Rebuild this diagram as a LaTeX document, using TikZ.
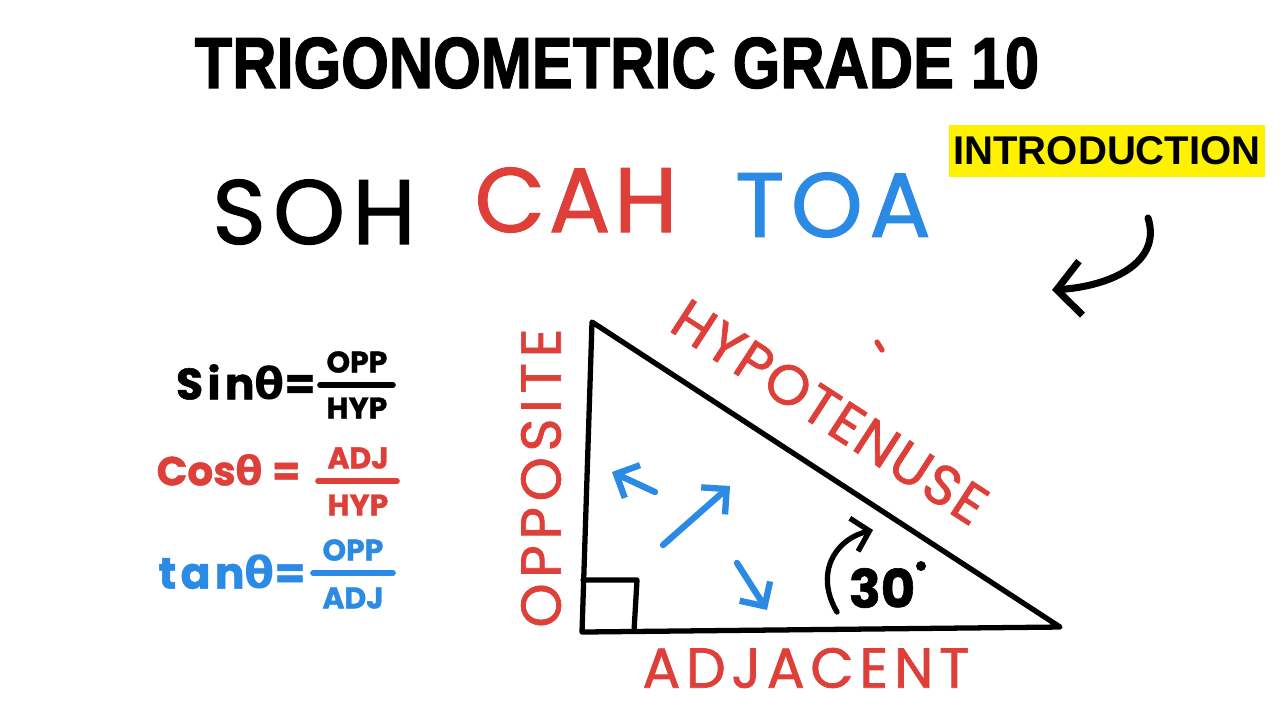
\documentclass[tikz,border=0pt]{standalone}
\usepackage{fontspec, graphicx}
\usetikzlibrary{arrows.meta}
\newfontfamily\titlefont{Liberation Sans}[FakeBold=2]
\newfontfamily\introfont{Liberation Sans}
\newfontfamily\handfont{Poppins}[FakeBold=1.2]
\newfontfamily\thetafont{DejaVu Sans}
\definecolor{penred}{HTML}{DE4039}
\definecolor{penblue}{HTML}{2A8AE4}
\definecolor{markyellow}{HTML}{FFF200}
\newcommand{\thet}{{\thetafont θ}}

\begin{document}
\begin{tikzpicture}[x=0.01cm, y=-0.01cm,
	hand/.style={font=\handfont\fontsize{16}{18}\selectfont, inner sep=0pt},
	big/.style={font=\handfont\fontsize{26}{30}\selectfont, inner sep=0pt},
	formula/.style={font=\handfont\bfseries\fontsize{12.5}{14}\selectfont, inner sep=0pt, anchor=east},
	small/.style={font=\handfont\bfseries\fontsize{8.5}{10}\selectfont, inner sep=0pt},
	bar/.style={line width=1.6pt, line cap=round},
	pen/.style={line width=1.5pt, line cap=round, line join=round},
	bluepen/.style={line width=1.8pt, line cap=round, line join=round, penblue, -{Straight Barb[length=1.8mm, width=3.6mm]}}]
	\fill[white] (0,0) rectangle (1280,720);
	\useasboundingbox (0,0) rectangle (1280,720);

	% title and label
	\node[font=\titlefont\bfseries\fontsize{20.5}{24}\selectfont] (title) at (617,63) {\scalebox{0.85}[1]{TRIGONOMETRIC GRADE 10}};
	\node[fill=markyellow, font=\introfont\bfseries\fontsize{11.4}{13}\selectfont, minimum width=3.15cm, minimum height=0.52cm, inner sep=0pt] (intro) at (1107,151) {INTRODUCTION};

	\coordinate (curlstart) at (1148,218);
	\coordinate (curlend) at (1052,290);
	\draw[line width=2pt, line cap=round, -{Straight Barb[length=2.4mm, width=5.4mm]}] (curlstart) .. controls (1162,262) and (1112,286) .. (curlend);

	% SOH CAH TOA
	\node[big] (soh) at (314,212) {\addfontfeatures{LetterSpace=8}SOH};
	\node[big, text=penred] (cah) at (576,200) {\addfontfeatures{LetterSpace=4}CAH};
	\node[big, text=penblue] (toa) at (833,205) {\addfontfeatures{LetterSpace=7}TOA};

	% ratios
	\node[formula] (sinlhs) at (316,382) {\addfontfeatures{LetterSpace=10}Sin\thet=};
	\node[small] (sinnum) at (357,362) {OPP};
	\node[small] (sinden) at (357,408) {HYP};
	\draw[bar] (320,385) -- (393,385);

	\node[formula, text=penred, font=\handfont\bfseries\fontsize{11.5}{14}\selectfont] (coslhs) at (301,470) {Cos\thet\ =};
	\node[small, text=penred] (cosnum) at (358,458) {ADJ};
	\node[small, text=penred] (cosden) at (358,505) {HYP};
	\draw[bar, penred] (318,481) -- (397,481);

	\node[formula, text=penblue] (tanlhs) at (306,572) {\addfontfeatures{LetterSpace=10}tan\thet=};
	\node[small, text=penblue] (tannum) at (353,550) {OPP};
	\node[small, text=penblue] (tanden) at (353,598) {ADJ};
	\draw[bar, penblue] (313,573) -- (393,573);

	% triangle
	\coordinate (top) at (592,322);
	\coordinate (right) at (1060,627);
	\coordinate (corner) at (582,632);

	\draw[pen] (top) -- (corner) -- (right) -- cycle;
	\draw[pen] (583,580) -- (637,580) -- (634,631);

	\node[hand, text=penred, rotate=-33] (hyp) at (830,412) {\addfontfeatures{LetterSpace=3}HYPOTENUSE};
	\draw[pen, penred] (877,342) -- (882,350);
	\node[hand, text=penred, rotate=90] (opp) at (541,478) {\addfontfeatures{LetterSpace=10}OPPOSITE};
	\node[hand, text=penred] (adj) at (806,668) {\addfontfeatures{LetterSpace=10}ADJACENT};

	\draw[bluepen] (655,492) -- (612,472);
	\draw[bluepen] (663,545) -- (730,486);
	\draw[bluepen] (737,563) -- (767,610);

	\draw[pen, -{Straight Barb[length=1.6mm, width=3.4mm]}] (837,612) .. controls (815,575) and (833,540) .. (873,530);
	\node[font=\handfont\bfseries\fontsize{15}{17}\selectfont, inner sep=0pt] (ang) at (882,588) {30};
	\fill (921,566) circle (5);
\end{tikzpicture}
\end{document}
